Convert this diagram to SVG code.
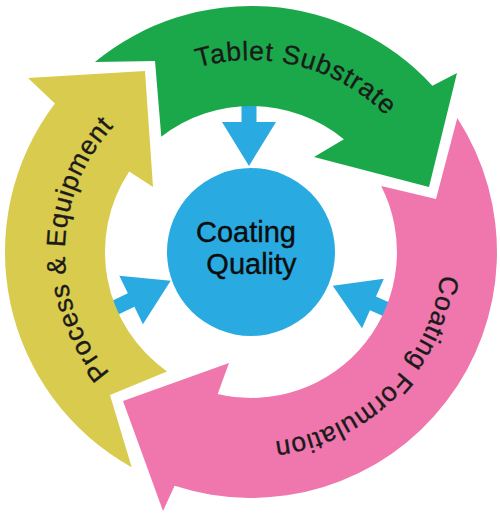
<svg xmlns="http://www.w3.org/2000/svg" width="500" height="514" viewBox="0 0 500 514">
  <style>
    .ring { font-family: "Liberation Sans", Arial, Helvetica, sans-serif; font-size: 26.5px; letter-spacing: 0.8px; fill: #1a1a1a; stroke: #1a1a1a; stroke-width: 0.35px; }
    .core { font-family: "Liberation Sans", Arial, Helvetica, sans-serif; font-size: 29px; fill: #0d0d0d; stroke: #0d0d0d; stroke-width: 0.4px; text-anchor: middle; }
    .conn { fill: #29abe2; }
  </style>
  <defs>
    <polygon id="bluearrow" points="0,0 -44,-27 -44,-7.5 -85,-7.5 -85,7.5 -44,7.5 -44,27"/>
    <path id="arcTablet" d="M 114.05 117.43 A 192 192 0 0 1 436.0 200.7"/>
    <path id="arcFormulation" d="M 435.5 202.6 A 191 191 0 0 1 201.6 436.5"/>
    <path id="arcProcess" d="M 155.2 411.4 A 186 186 0 0 1 160.8 89.3"/>
  </defs>
  <rect width="500" height="514" fill="#ffffff"/>

  <g id="connectors">
    <use href="#bluearrow" class="conn" transform="translate(249,166) rotate(90)"/>
    <use href="#bluearrow" class="conn" transform="translate(170.7,280.7) rotate(-25.9)"/>
    <use href="#bluearrow" class="conn" transform="translate(332.7,285.7) rotate(-156.2)"/>
  </g>

  <g id="tablet-substrate">
    <path fill="#1ba84b" d="M 94.9 61.9 A 246 246 0 0 1 432.4 85.8 L 457 73 L 429 187 L 314 157 L 343.9 139.3 A 146 146 0 0 0 161.3 136.8 L 155 61 Z"/>
    <text class="ring"><textPath href="#arcTablet" startOffset="50%" text-anchor="middle">Tablet Substrate</textPath></text>
  </g>

  <g id="coating-formulation">
    <path fill="#ef77ad" d="M 457.3 118 A 246 246 0 0 1 174.6 485.8 L 163 511 L 123 401 L 229 363 L 217.7 394.1 A 146 146 0 0 0 381.2 186 L 436 199 Z"/>
    <text class="ring"><textPath href="#arcFormulation" startOffset="50%" text-anchor="middle">Coating Formulation</textPath></text>
  </g>

  <g id="process-equipment">
    <path fill="#d9cb4e" d="M 131.7 467.2 A 246 246 0 0 1 54.9 103.5 L 28 78 L 145 71 L 153 187 L 129.2 171.4 A 146 146 0 0 0 167 371.4 L 110 395 Z"/>
    <text class="ring"><textPath href="#arcProcess" startOffset="50%" text-anchor="middle">Process &amp; Equipment</textPath></text>
  </g>

  <g id="coating-quality">
    <circle cx="251" cy="252" r="84" fill="#29abe2"/>
    <text class="core" x="246" y="242.3">Coating</text>
    <text class="core" x="251.5" y="273.5">Quality</text>
  </g>
</svg>
